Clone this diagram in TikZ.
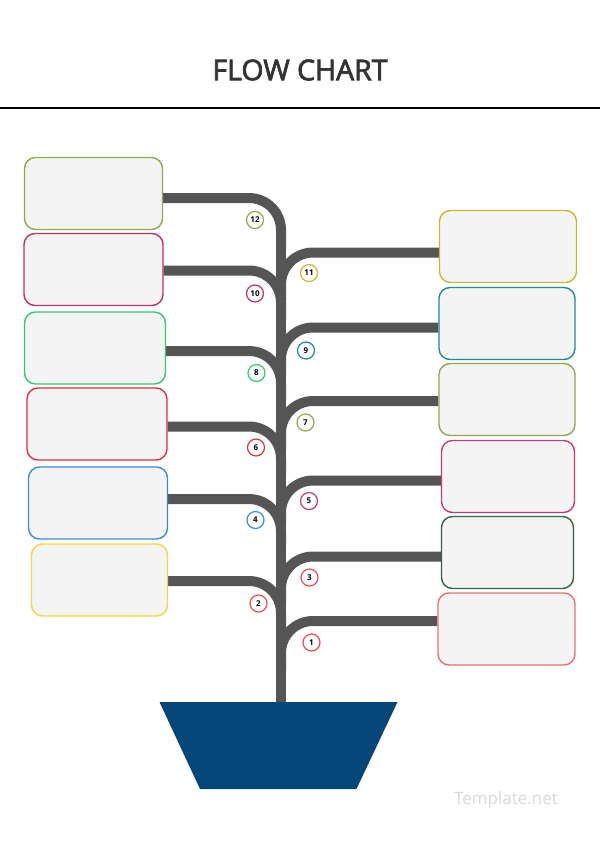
\documentclass[tikz,border=0pt]{standalone}
\usepackage{fontspec}
\setmainfont{Open Sans}
\newfontfamily\titlefont{Open Sans}[FakeBold=2.6]
\usetikzlibrary{backgrounds}
\definecolor{titlegray}{HTML}{333333}
\definecolor{branchgray}{HTML}{555555}
\definecolor{boxfill}{HTML}{F4F4F4}
\definecolor{potblue}{RGB}{5,70,120}
\definecolor{cOlive}{RGB}{141,170,82}
\definecolor{cMagenta}{RGB}{192,45,105}
\definecolor{cGreen}{RGB}{50,200,120}
\definecolor{cRed}{RGB}{220,50,60}
\definecolor{cBlue}{RGB}{60,140,210}
\definecolor{cYellow}{RGB}{250,210,70}
\definecolor{cMustard}{RGB}{200,185,50}
\definecolor{cTeal}{RGB}{30,140,140}
\definecolor{cPink}{RGB}{190,60,120}
\definecolor{cDarkGreen}{RGB}{50,100,65}
\definecolor{cSalmon}{RGB}{240,110,115}
\definecolor{cNumRed}{RGB}{235,75,85}
\definecolor{wmgray}{HTML}{D9D9D9}
\tikzset{
  stepbox/.style={draw, rectangle, rounded corners=11pt, line width=1.4pt, fill=boxfill, minimum width=#1, minimum height=72pt, inner sep=0pt},
  branch/.style={draw=branchgray, line width=10pt, rounded corners=32pt},
  numcirc/.style={draw, circle, line width=1.2pt, fill=white, minimum size=17pt, inner sep=0pt, text=black, font=\bfseries\fontsize{8}{8}\selectfont}
}
\begin{document}
\begin{tikzpicture}[x=1pt,y=-1pt]
\useasboundingbox (0,0) rectangle (600,849);
% title
\node[text=titlegray, font=\titlefont\fontsize{28.5}{30}\selectfont] (title) at (300,70) {FLOW CHART};
\draw[line width=2pt, black] (0,108) -- (600,108);
% left boxes
\node[stepbox=138pt, draw=cOlive] (b12) at (93.5,193.5) {};
\node[stepbox=139pt, draw=cMagenta] (b10) at (93.5,269.5) {};
\node[stepbox=141pt, draw=cGreen] (b8) at (95,348) {};
\node[stepbox=140pt, draw=cRed] (b6) at (97,424) {};
\node[stepbox=139pt, draw=cBlue] (b4) at (98,503) {};
\node[stepbox=136pt, draw=cYellow] (b2) at (99.5,580) {};
% right boxes
\node[stepbox=137pt, draw=cMustard] (b11) at (508,246.5) {};
\node[stepbox=136pt, draw=cTeal] (b9) at (507,323.5) {};
\node[stepbox=136pt, draw=cOlive] (b7) at (507,399.5) {};
\node[stepbox=133pt, draw=cPink] (b5) at (508,476.5) {};
\node[stepbox=132pt, draw=cDarkGreen] (b3) at (507.5,552.5) {};
\node[stepbox=137pt, draw=cSalmon] (b1) at (506.5,629) {};
% junction coordinates on trunk
\coordinate (pottop) at (281,702);
\coordinate (j12) at (281,250);
\coordinate (j10) at (281,320);
\coordinate (j8) at (281,400);
\coordinate (j6) at (281,475);
\coordinate (j4) at (281,545);
\coordinate (j2) at (281,630);
\coordinate (j11) at (281,300);
\coordinate (j9) at (281,375);
\coordinate (j7) at (281,450);
\coordinate (j5) at (281,525);
\coordinate (j3) at (281,605);
\coordinate (j1) at (281,670);
\begin{pgfonlayer}{background}
% trunk
\draw[branch] (j12) -- (pottop);
% left branches
\draw[branch] ([yshift=-4.5pt]b12.east) -- (281,198) -- (j12);
\draw[branch] ([yshift=-1pt]b10.east) -- (281,270.5) -- (j10);
\draw[branch] ([yshift=-3pt]b8.east) -- (281,351) -- (j8);
\draw[branch] ([yshift=-2.5pt]b6.east) -- (281,426.5) -- (j6);
\draw[branch] ([yshift=4pt]b4.east) -- (281,499) -- (j4);
\draw[branch] ([yshift=-1pt]b2.east) -- (281,581) -- (j2);
% right branches
\draw[branch] ([yshift=-6pt]b11.west) -- (281,252.5) -- (j11);
\draw[branch] ([yshift=-4pt]b9.west) -- (281,327.5) -- (j9);
\draw[branch] ([yshift=-1.5pt]b7.west) -- (281,401) -- (j7);
\draw[branch] ([yshift=-4pt]b5.west) -- (281,480.5) -- (j5);
\draw[branch] ([yshift=-4pt]b3.west) -- (281,556.5) -- (j3);
\draw[branch] ([yshift=8pt]b1.west) -- (281,621) -- (j1);
\end{pgfonlayer}
% number circles
\node[numcirc, draw=cOlive] (c12) at (255,220) {12};
\node[numcirc, draw=cMagenta] (c10) at (255,293.5) {10};
\node[numcirc, draw=cMustard] (c11) at (309,273) {11};
\node[numcirc, draw=cTeal] (c9) at (306,350.5) {9};
\node[numcirc, draw=cGreen] (c8) at (256.5,373) {8};
\node[numcirc, draw=cOlive] (c7) at (305.5,422.5) {7};
\node[numcirc, draw=cRed] (c6) at (256,447.5) {6};
\node[numcirc, draw=cPink] (c5) at (309,501) {5};
\node[numcirc, draw=cBlue] (c4) at (255.5,520) {4};
\node[numcirc, draw=cNumRed] (c3) at (309.5,577.5) {3};
\node[numcirc, draw=cNumRed] (c2) at (258.5,603.5) {2};
\node[numcirc, draw=cNumRed] (c1) at (311.5,642.5) {1};
% pot
\fill[potblue] (159.5,702) -- (397.5,702) -- (356.5,789) -- (200,789) -- cycle;
% watermark
\node[text=wmgray, font=\fontsize{17}{17}\selectfont] (wm) at (506,800) {Template.net};
\end{tikzpicture}
\end{document}
